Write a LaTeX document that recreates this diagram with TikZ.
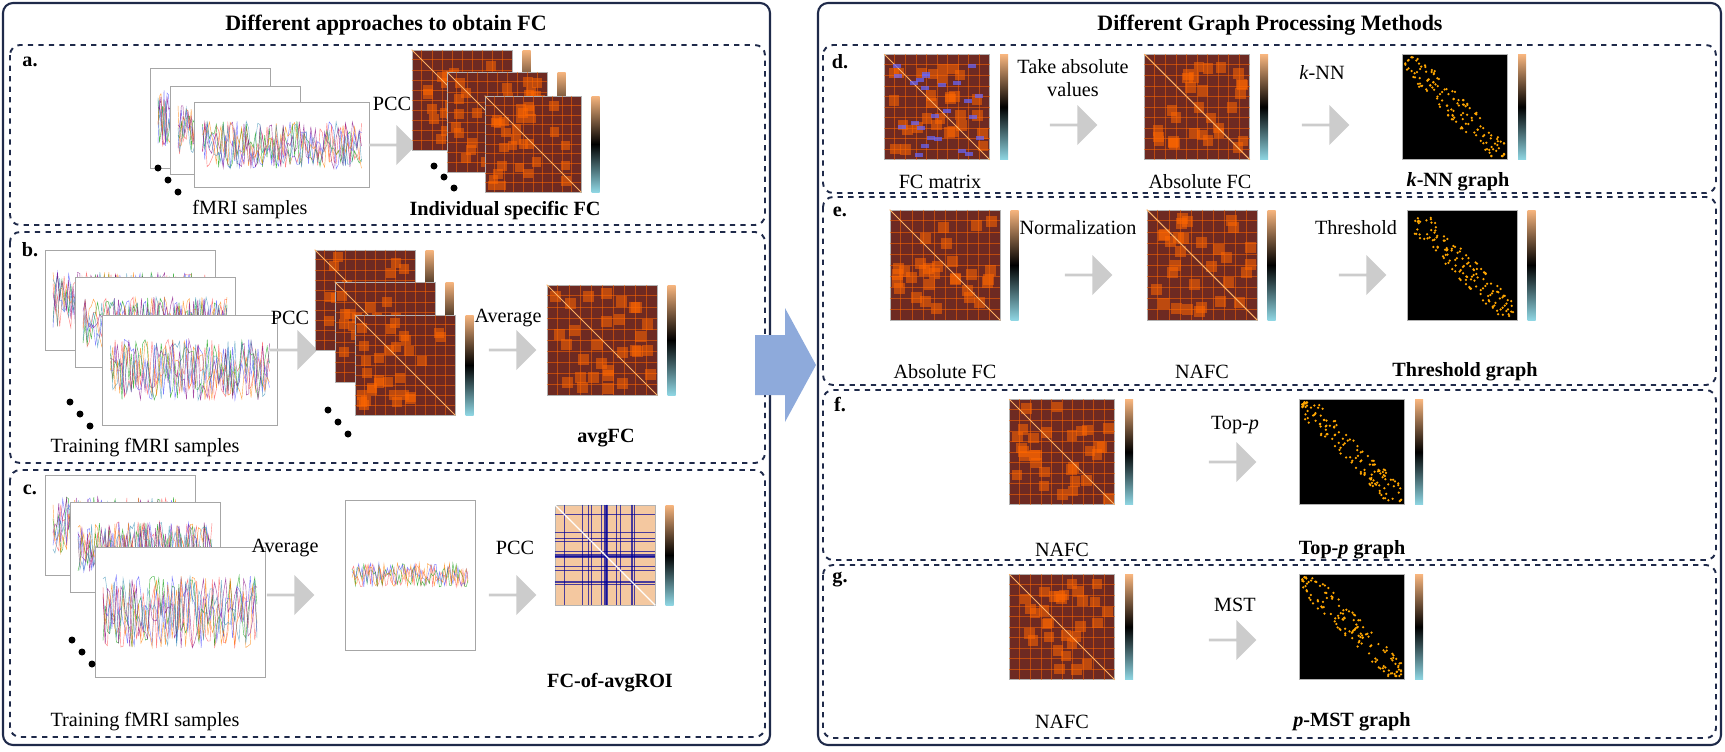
\documentclass[tikz,border=0pt]{standalone}
\usepackage{fontspec}
\setmainfont{Liberation Serif}
\usetikzlibrary{calc}
\usetikzlibrary{shapes.arrows}
\definecolor{navy}{HTML}{1F2A4A}
\definecolor{fcred}{HTML}{6E2A22}
\definecolor{cbtop}{HTML}{F7B57E}
\definecolor{cbbot}{HTML}{8FD6E3}
\definecolor{roibg}{HTML}{F4C8A0}
\definecolor{bigblue}{HTML}{8EAADB}
\tikzset{
	outerbox/.style={draw=navy, line width=1.2pt, rounded corners=0.2cm},
	panelbox/.style={draw=navy, line width=1.1pt, dashed, rounded corners=0.2cm},
	title/.style={font=\fontsize{12.5}{14}\selectfont\bfseries},
	lbl/.style={font=\fontsize{11.5}{13}\selectfont, align=center},
	blbl/.style={font=\fontsize{11.5}{13}\selectfont\bfseries},
	letter/.style={font=\fontsize{11.5}{13}\selectfont\bfseries},
	fcstyle/.style={draw=gray!60, fill=fcred, inner sep=0pt},
	graphstyle/.style={draw=gray!60, fill=black, inner sep=0pt},
	roistyle/.style={draw=gray!60, fill=roibg, inner sep=0pt},
	cbar/.style={inner sep=0pt, minimum width=0.16cm, top color=cbtop, bottom color=cbbot, middle color=black},
	fcline/.style={orange!80!red, line width=0.3pt, opacity=0.55},
	fcspot/.style={fill=orange!80!red, opacity=0.55},
	gdot/.style={fill=orange!70!yellow},
	tsbox/.style={draw=gray!70, fill=white, inner sep=0pt},
	grayarrow/.style={single arrow, fill=gray!40, draw=none, minimum height=0.95cm, minimum width=0.8cm, single arrow head extend=0.1cm, inner sep=0pt},
	dot/.style={circle, fill=black, inner sep=0pt, minimum size=0.14cm}
}
% matrix with colour bar: name, position, size (px), style
\newcommand{\fcmat}[4]{%
	\node[#4, minimum size=#3*0.02cm] (#1) at (#2) {};
	\node[cbar, minimum height=#3*0.02cm, anchor=west] (#1cb) at ([xshift=0.2cm]#1.east) {};
}
\newcommand{\fcgrid}[2]{%
	\foreach \i in {1,...,30}{
		\pgfmathsetmacro\u{0.02+0.88*rnd}
		\pgfmathsetmacro\v{0.02+0.88*rnd}
		\fill[fcspot] ($(#1.north west)+(\u*#2,\v*#2)$) rectangle +(0.1*#2,0.1*#2);
	}
	\foreach \t in {0.1,0.2,...,0.91}{
		\draw[fcline] ($(#1.north west)!\t!(#1.north east)$) -- ($(#1.south west)!\t!(#1.south east)$);
		\draw[fcline] ($(#1.north west)!\t!(#1.south west)$) -- ($(#1.north east)!\t!(#1.south east)$);
	}
	\draw[orange!60, line width=0.6pt] (#1.north west) -- (#1.south east);
}
\newcommand{\graphdots}[2]{%
	\foreach \i in {1,...,70}{
		\pgfmathsetmacro\u{0.03+0.94*rnd}
		\pgfmathsetmacro\v{min(max(\u+0.3*(rnd-0.5),0.03),0.97)}
		\fill[gdot] ($(#1.north west)+(\u*#2,\v*#2)$) circle[radius=0.025cm];
		\fill[gdot] ($(#1.north west)+(\v*#2,\u*#2)$) circle[radius=0.025cm];
	}
}
\newcommand{\roilines}[2]{%
	\foreach \i in {1,...,14}{
		\pgfmathsetmacro\u{0.05+0.9*rnd}
		\draw[blue!60!black, line width=0.7pt, opacity=0.7] ($(#1.north west)+(\u*#2,0)$) -- ($(#1.south west)+(\u*#2,0)$);
		\draw[blue!60!black, line width=0.7pt, opacity=0.7] ($(#1.north west)+(0,\u*#2)$) -- ($(#1.north east)+(0,\u*#2)$);
	}
	\draw[white, line width=0.8pt] (#1.north west) -- (#1.south east);
}
% time series frame: name, cx, cy, w, h
\newcommand{\tsplot}[5]{%
	\node[tsbox, minimum width=#4*0.02cm, minimum height=#5*0.02cm] (#1) at (#2,#3) {};
	\pgfmathsetmacro\xa{#2-#4/2+8}
	\pgfmathsetmacro\xb{#2+#4/2-8}
	\foreach \c in {red!70,green!60!black,blue!70,orange,violet,cyan!70!black}{
		\draw[\c, line width=0.25pt, opacity=0.7] plot[domain=\xa:\xb, samples=70] (\x,{#3+(rand)*#5*0.28});
	}
}

\begin{document}
\begin{tikzpicture}[x=0.02cm, y=-0.02cm]
\pgfmathsetseed{7}
\useasboundingbox (0,0) rectangle (1725,751);

% outer boxes
\draw[outerbox] (3,3) rectangle (770,745);
\draw[outerbox] (818,3) rectangle (1721,745);
\node[title] (tleft) at (386,25) {Different approaches to obtain FC};
\node[title] (tright) at (1270,25) {Different Graph Processing Methods};

\draw[panelbox] (10,45) rectangle (765,225);
\draw[panelbox] (10,232) rectangle (765,463);
\draw[panelbox] (10,470) rectangle (765,737);
\draw[panelbox] (823,45) rectangle (1716,193);
\draw[panelbox] (823,197) rectangle (1716,385);
\draw[panelbox] (823,390) rectangle (1716,560);
\draw[panelbox] (823,565) rectangle (1716,738);

\node[letter] (la) at (30,62) {a.};
\node[letter] (lb) at (30,250) {b.};
\node[letter] (lc) at (30,490) {c.};
\node[letter] (ld) at (840,62) {d.};
\node[letter] (le) at (840,212) {e.};
\node[letter] (lf) at (840,405) {f.};
\node[letter] (lg) at (840,580) {g.};

% big arrow
\fill[bigblue] (755,335) -- (785,335) -- (785,308) -- (816,365) -- (785,422) -- (785,395) -- (755,395) -- cycle;

% panel a
\tsplot{a1}{210}{118}{120}{100}
\tsplot{a2}{235}{130}{130}{88}
\tsplot{a3}{282}{145}{175}{85}
\node[dot] (ad1) at (158,168) {};
\node[dot] (ad2) at (168,180) {};
\node[dot] (ad3) at (178,192) {};
\node[lbl] (afmri) at (250,210) {fMRI samples};
\node[grayarrow] (apcc) at (392,145) {};
\node[lbl] (apccl) at (392,104) {PCC};
\fcmat{am1}{462,100}{100}{fcstyle}
\fcgrid{am1}{100}
\fcmat{am2}{497,122}{100}{fcstyle}
\fcgrid{am2}{100}
\fcmat{am3}{533,144}{96}{fcstyle}
\fcgrid{am3}{96}
\node[dot] (amd1) at (434,166) {};
\node[dot] (amd2) at (444,177) {};
\node[dot] (amd3) at (454,188) {};
\node[blbl] (aind) at (505,211) {Individual specific FC};

% panel b
\tsplot{b1}{130}{300}{170}{100}
\tsplot{b2}{155}{322}{160}{90}
\tsplot{b3}{190}{370}{175}{110}
\node[dot] (bd1) at (70,402) {};
\node[dot] (bd2) at (80,414) {};
\node[dot] (bd3) at (90,426) {};
\node[lbl] (bfmri) at (145,448) {Training fMRI samples};
\node[grayarrow] (bpcc) at (293,350) {};
\node[lbl] (bpccl) at (290,318) {PCC};
\fcmat{bm1}{365,300}{100}{fcstyle}
\fcgrid{bm1}{100}
\fcmat{bm2}{385,332}{100}{fcstyle}
\fcgrid{bm2}{100}
\fcmat{bm3}{405,365}{100}{fcstyle}
\fcgrid{bm3}{100}
\node[dot] (bmd1) at (328,410) {};
\node[dot] (bmd2) at (338,422) {};
\node[dot] (bmd3) at (348,434) {};
\node[grayarrow] (bavg) at (512,350) {};
\node[lbl] (bavgl) at (508,318) {Average};
\fcmat{bavgfc}{602,340}{110}{fcstyle}
\fcgrid{bavgfc}{110}
\node[blbl] (bavgfcl) at (606,438) {avgFC};

% panel c
\tsplot{c1}{120}{525}{150}{100}
\tsplot{c2}{145}{547}{150}{90}
\tsplot{c3}{180}{612}{170}{130}
\node[dot] (cd1) at (72,640) {};
\node[dot] (cd2) at (82,652) {};
\node[dot] (cd3) at (92,664) {};
\node[lbl] (cfmri) at (145,722) {Training fMRI samples};
\node[grayarrow] (cavg) at (290,595) {};
\node[lbl] (cavgl) at (285,548) {Average};
\node[tsbox, minimum width=2.6cm, minimum height=3.0cm] (cts) at (410,575) {};
\foreach \c in {red!70,green!60!black,blue!70,orange}{
	\draw[\c, line width=0.25pt, opacity=0.7] plot[domain=352:468, samples=70] (\x,{575+(rand)*12});
}
\node[grayarrow] (cpcc) at (512,595) {};
\node[lbl] (cpccl) at (515,548) {PCC};
\fcmat{croi}{605,555}{100}{roistyle}
\roilines{croi}{100}
\node[blbl] (croil) at (610,683) {FC-of-avgROI};

% panel d
\fcmat{dfc}{937,107}{105}{fcstyle}
\fcgrid{dfc}{105}
\foreach \i in {1,...,25}{
	\pgfmathsetmacro\u{0.05+0.9*rnd}
	\pgfmathsetmacro\v{0.05+0.9*rnd}
	\fill[blue!60, opacity=0.7] ($(dfc.north west)+(\u*105,\v*105)$) rectangle +(8,4);
}
\node[lbl] (dfcl) at (940,182) {FC matrix};
\node[grayarrow] (dabs) at (1073,125) {};
\node[lbl] (dabsl) at (1073,78) {Take absolute\\values};
\fcmat{dafc}{1197,107}{105}{fcstyle}
\fcgrid{dafc}{105}
\node[lbl] (dafcl) at (1200,182) {Absolute FC};
\node[grayarrow] (dknn) at (1325,125) {};
\node[lbl] (dknnl) at (1322,72) {\textit{k}-NN};
\fcmat{dg}{1455,107}{105}{graphstyle}
\graphdots{dg}{105}
\node[blbl] (dgl) at (1458,182) {\textit{k}-NN graph};

% panel e
\fcmat{eafc}{945,265}{110}{fcstyle}
\fcgrid{eafc}{110}
\node[lbl] (eafcl) at (945,372) {Absolute FC};
\node[grayarrow] (enorm) at (1088,275) {};
\node[lbl] (enorml) at (1078,228) {Normalization};
\fcmat{enafc}{1202,265}{110}{fcstyle}
\fcgrid{enafc}{110}
\node[lbl] (enafcl) at (1202,372) {NAFC};
\node[grayarrow] (ethr) at (1362,275) {};
\node[lbl] (ethrl) at (1356,228) {Threshold};
\fcmat{eg}{1462,265}{110}{graphstyle}
\graphdots{eg}{110}
\node[blbl] (egl) at (1465,372) {Threshold graph};

% panel f
\fcmat{fnafc}{1062,452}{105}{fcstyle}
\fcgrid{fnafc}{105}
\node[lbl] (fnafcl) at (1062,550) {NAFC};
\node[grayarrow] (ftop) at (1232,462) {};
\node[lbl] (ftopl) at (1235,425) {Top-\textit{p}};
\fcmat{fg}{1352,452}{105}{graphstyle}
\graphdots{fg}{105}
\node[blbl] (fgl) at (1352,550) {Top-\textit{p} graph};

% panel g
\fcmat{gnafc}{1062,627}{105}{fcstyle}
\fcgrid{gnafc}{105}
\node[lbl] (gnafcl) at (1062,722) {NAFC};
\node[grayarrow] (gmst) at (1232,640) {};
\node[lbl] (gmstl) at (1235,605) {MST};
\fcmat{gg}{1352,627}{105}{graphstyle}
\graphdots{gg}{105}
\node[blbl] (ggl) at (1352,722) {\textit{p}-MST graph};
\end{tikzpicture}
\end{document}
